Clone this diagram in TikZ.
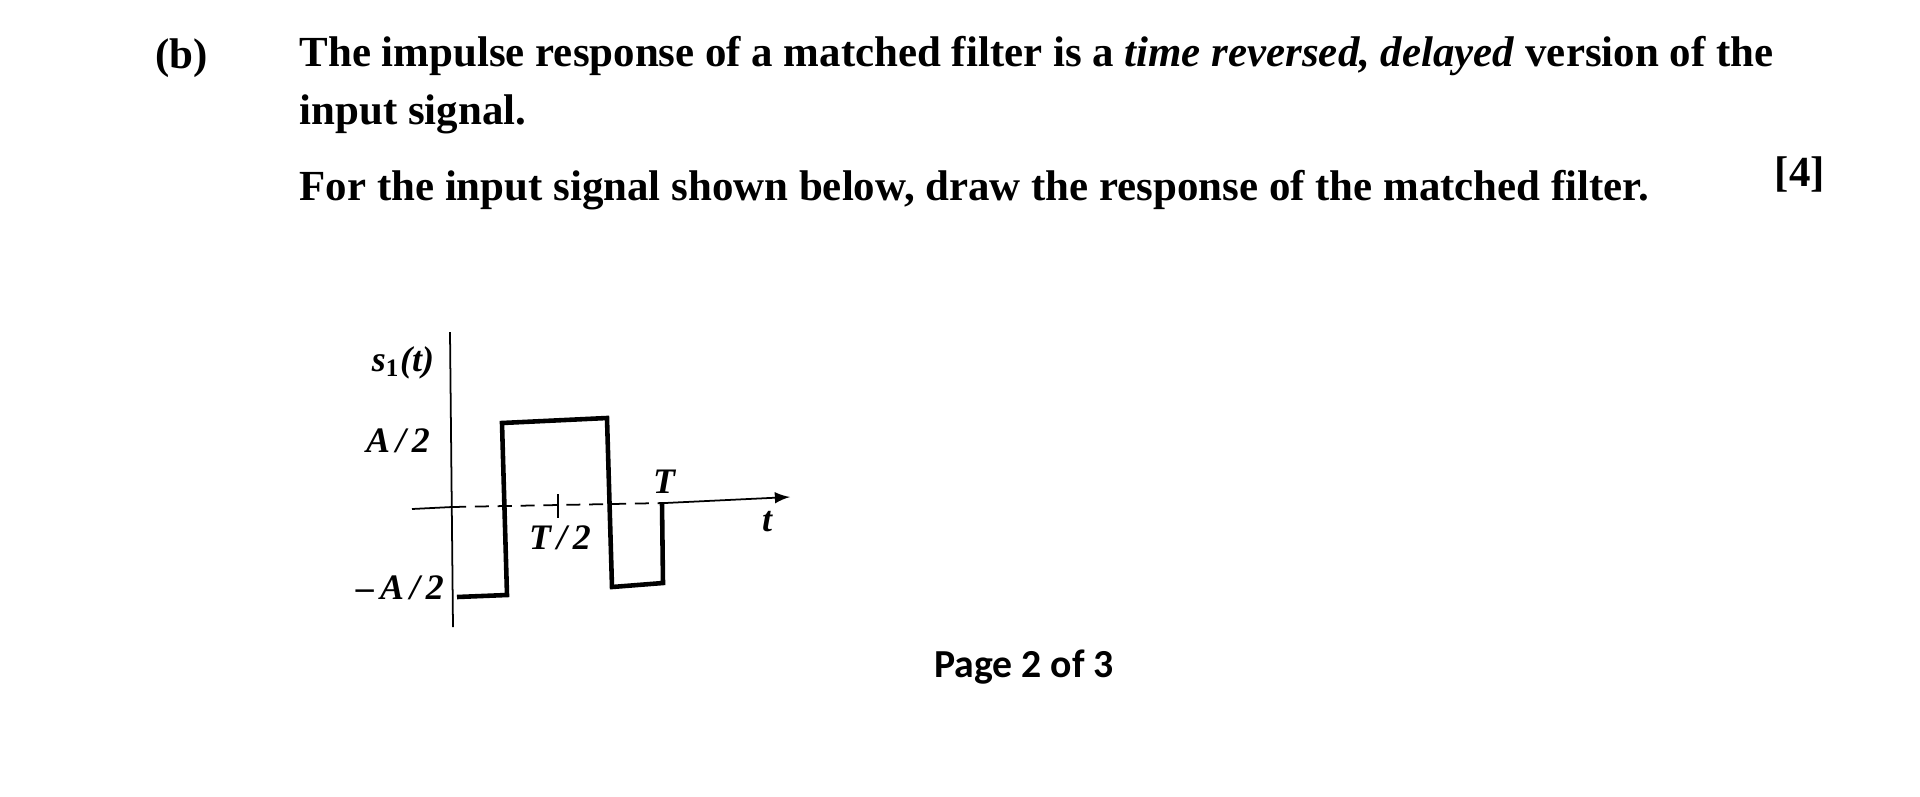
\documentclass[tikz,border=0pt]{standalone}
\usepackage{fontspec}
\setmainfont{Liberation Serif}
\newfontfamily\pagefont{Carlito}
\begin{document}
\begin{tikzpicture}[x=0.01cm,y=-0.01cm,
  txt/.style={font=\fontsize{12.2}{14}\selectfont\bfseries,inner sep=0pt},
  lab/.style={font=\fontsize{10.2}{12}\selectfont\bfseries\itshape,inner sep=0pt},
  sig/.style={line width=1.3pt},
  ax/.style={line width=0.5pt}]
\useasboundingbox (0,0) rectangle (1920,796);
\node[txt,anchor=base west] (b) at (155,68) {(b)};
\node[txt,anchor=base west] (l1) at (299,66) {The impulse response of a matched filter is a \textit{time reversed, delayed} version of the};
\node[txt,anchor=base west] (l2) at (299,124) {input signal.};
\node[txt,anchor=base west] (l3) at (299,200) {For the input signal shown below, draw the response of the matched filter.};
\node[txt,anchor=base west] (m) at (1774,186) {[4]};
\node[font=\pagefont\fontsize{11.3}{13}\selectfont\bfseries,anchor=base] (pg) at (1024,677) {Page 2 of 3};
% axes
\coordinate (o) at (452,507);
\coordinate (yt) at (450,332);
\coordinate (yb) at (453,627);
\coordinate (xl) at (412,509);
\coordinate (xT) at (665,503);
\coordinate (xr) at (790,497);
\draw[ax] (yt) -- (yb);
\draw[ax] (xl) -- (o);
\draw[ax,dash pattern=on 4pt off 2.5pt] (o) -- (xT);
\draw[ax,-latex] (xT) -- (xr);
\draw[ax] (558,494) -- (558,518);
% signal
\draw[sig] (457,597) -- (507,595) -- (502,423) -- (607,418) -- (612,587) -- (663,583) -- (662,503);
% labels
\node[lab] (s) at (403,363) {s\textsubscript{\upshape 1}(t)};
\node[lab] (ap) at (398,441) {A\,/\,2};
\node[lab] (am) at (400,588) {--\,A\,/\,2};
\node[lab] (th) at (560,538) {T\,/\,2};
\node[lab] (tt) at (664,482) {T};
\node[lab] (t) at (767,522) {t};
\end{tikzpicture}
\end{document}
